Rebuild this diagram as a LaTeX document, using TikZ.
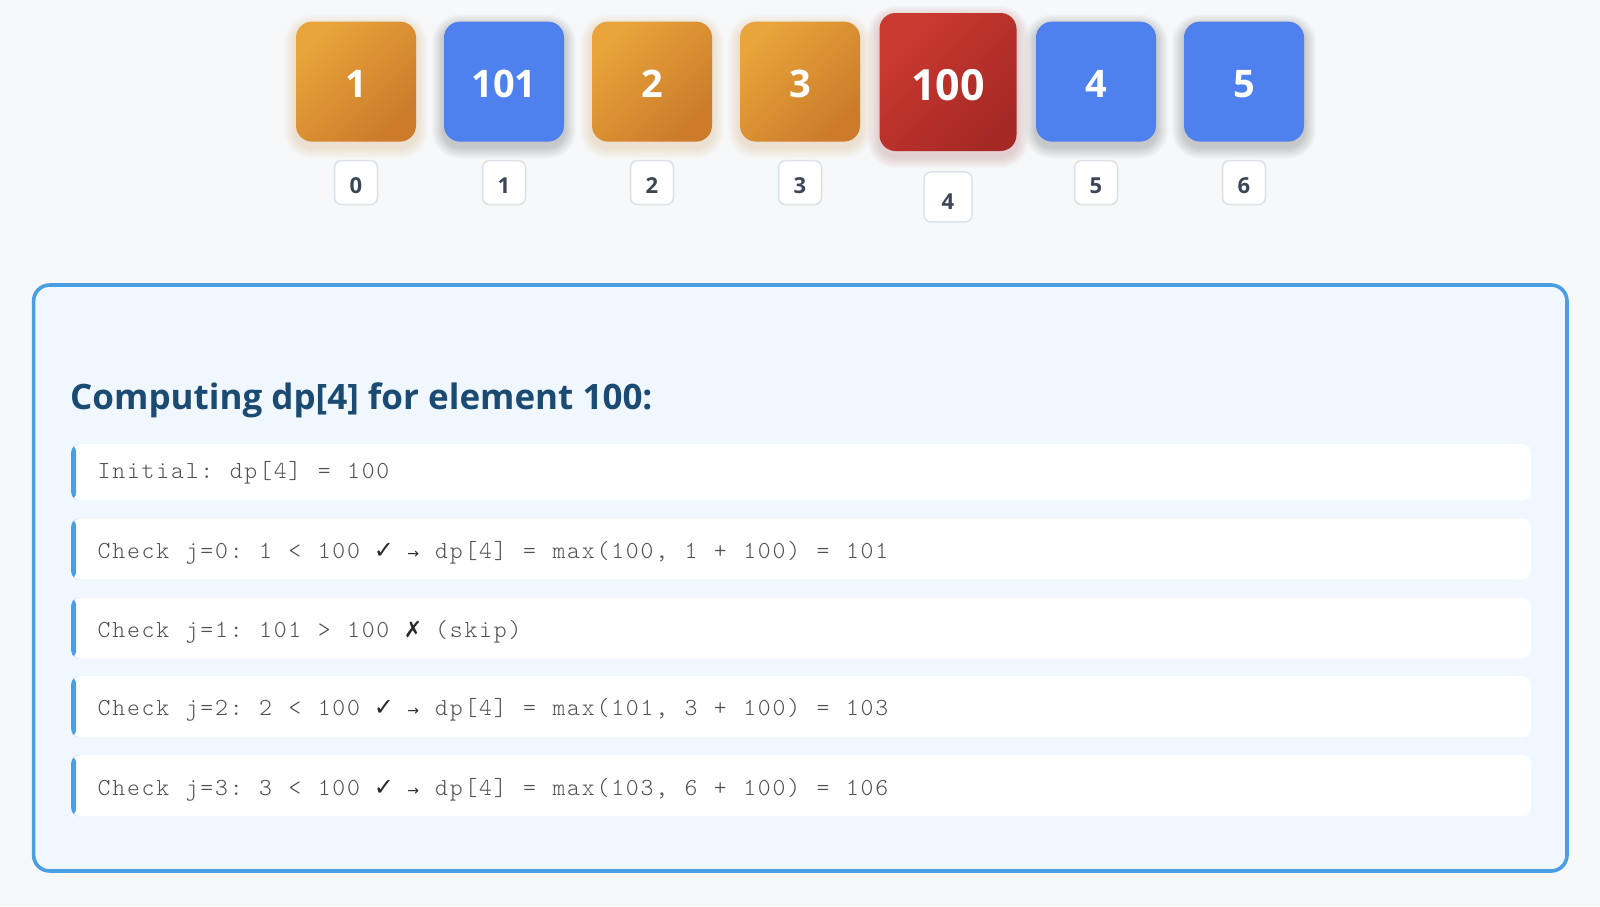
\documentclass[tikz,border=0pt]{standalone}
\usepackage{fontspec}
\setmainfont{Open Sans}
\newfontfamily\codefont[LetterSpace=7.4]{Latin Modern Mono Light}
\newfontfamily\symfont{DejaVu Sans}
\usepackage{tikz}
\usetikzlibrary{positioning, backgrounds}

\definecolor{pagebg}{HTML}{F7F8FA}
\definecolor{panelbg}{HTML}{F0F7FE}
\definecolor{panelline}{HTML}{4A9FE3}
\definecolor{orangeA}{HTML}{E9A43B}
\definecolor{orangeB}{HTML}{CB7B2A}
\definecolor{blueA}{HTML}{4E81EE}
\definecolor{redA}{HTML}{CB3A31}
\definecolor{redB}{HTML}{A62824}
\definecolor{idxline}{HTML}{DDE2E8}
\definecolor{idxtext}{HTML}{3C4656}
\definecolor{titlecol}{HTML}{1B4A72}
\definecolor{codecol}{HTML}{505050}
\definecolor{symcol}{HTML}{2A2A2A}

% one monospace cell is 14.67pt wide; a space also makes up the letter spacing
\newcommand{\codesetup}{\fontsize{24.5}{28}\selectfont\codefont\frenchspacing\spaceskip=16.48pt\relax}
\newcommand{\chk}{\makebox[14.67pt]{\symfont\fontsize{24}{24}\selectfont\color{symcol}✓}\hspace{14.67pt}}
\newcommand{\crs}{\makebox[14.67pt]{\symfont\fontsize{22}{22}\selectfont\color{symcol}✗}\hspace{14.67pt}}
\newcommand{\arr}{\makebox[14.67pt]{\symfont\fontsize{14}{14}\selectfont\color{symcol}→}\hspace{14.67pt}}

\tikzset{
  elem/.style={rounded corners=16pt, minimum width=120pt, minimum height=120pt,
    inner sep=0pt, text=white, font=\fontsize{38}{40}\selectfont\bfseries,
    text height=31pt, text depth=0pt},
  orangebox/.style={elem, top color=orangeA, bottom color=orangeB, shading angle=45},
  bluebox/.style={elem, fill=blueA},
  redbox/.style={elem, minimum width=137pt, minimum height=138pt,
    font=\fontsize{43}{45}\selectfont\bfseries, text height=36pt,
    top color=redA, bottom color=redB, shading angle=45},
  idx/.style={draw=idxline, line width=1.5pt, fill=white, rounded corners=7pt,
    minimum width=43pt, minimum height=44pt, inner sep=0pt, text=idxtext,
    font=\fontsize{22}{24}\selectfont\bfseries, text height=22pt, text depth=0pt},
  rowbox/.style={fill=white, rounded corners=8pt, minimum width=1459.6pt, inner sep=0pt,
    anchor=north west,
    path picture={\fill[panelline] (path picture bounding box.north west)
      rectangle ([xshift=5pt]path picture bounding box.south west);}},
  code/.style={inner sep=0pt, anchor=base west, text=codecol, font=\codesetup},
}

\begin{document}
\begin{tikzpicture}[x=1pt, y=-1pt]
  \begin{pgfonlayer}{background}
    \fill [pagebg] (0,0) rectangle (1600,906);
  \end{pgfonlayer}

  % the array
  \node [orangebox] (e0) at (356,81.6) {1};
  \node [bluebox]   (e1) at (504,81.6) {101};
  \node [orangebox] (e2) at (652,81.6) {2};
  \node [orangebox] (e3) at (800,81.6) {3};
  \node [redbox]    (e4) at (948,82)   {100};
  \node [bluebox]   (e5) at (1096,81.6) {4};
  \node [bluebox]   (e6) at (1244,81.6) {5};

  % soft shadows under the array
  \begin{pgfonlayer}{background}
    \foreach \n/\c in {e0/orangeB, e1/black, e2/orangeB, e3/orangeB, e4/redB, e5/black, e6/black}
      \foreach \k in {1,...,12}
        \fill [\c, opacity=0.014, rounded corners={(16+\k)*1pt}]
          ([shift={(-\k,5-\k)}]\n.north west) rectangle ([shift={(\k,5+\k)}]\n.south east);
  \end{pgfonlayer}

  % indices
  \node [idx, below=18pt of e0] (i0) {0};
  \node [idx, below=18pt of e1] (i1) {1};
  \node [idx, below=18pt of e2] (i2) {2};
  \node [idx, below=18pt of e3] (i3) {3};
  \node [idx, below=20pt of e4, minimum width=48pt, minimum height=50pt, text height=26pt] (i4) {4};
  \node [idx, below=18pt of e5] (i5) {5};
  \node [idx, below=18pt of e6] (i6) {6};

  % explanation panel
  \draw [panelline, fill=panelbg, line width=3.6pt, rounded corners=16pt]
    (33.6,285) rectangle (1567,871);
  \node [anchor=base west, inner sep=0pt, text=titlecol,
    font=\fontsize{35}{38}\selectfont\bfseries] (title) at (70,409.3)
    {Computing dp[4] for element 100:};

  \node [rowbox, minimum height=56pt] (r1) at (71,444) {};
  \node [rowbox, minimum height=61pt] (r2) at (71,518.3) {};
  \node [rowbox, minimum height=61pt] (r3) at (71,597.3) {};
  \node [rowbox, minimum height=61pt] (r4) at (71,676) {};
  \node [rowbox, minimum height=61pt] (r5) at (71,755) {};

  \node [code] (t1) at (97.5,478.3) {Initial: dp[4] = 100};
  \node [code] (t2) at (97.5,558.3) {Check j=0: 1 < 100 \chk\arr dp[4] = max(100, 1 + 100) = 101};
  \node [code] (t3) at (97.5,637.3) {Check j=1: 101 > 100 \crs(skip)};
  \node [code] (t4) at (97.5,715.7) {Check j=2: 2 < 100 \chk\arr dp[4] = max(101, 3 + 100) = 103};
  \node [code] (t5) at (97.5,795.7) {Check j=3: 3 < 100 \chk\arr dp[4] = max(103, 6 + 100) = 106};
\end{tikzpicture}
\end{document}
